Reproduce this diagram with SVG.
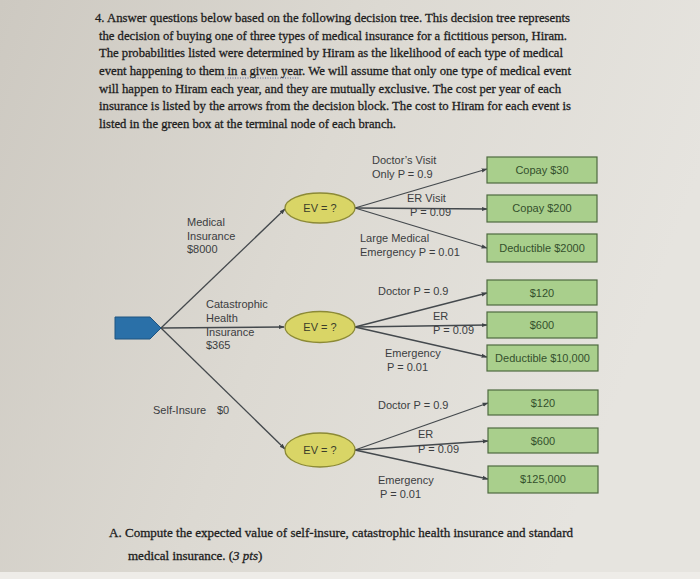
<svg xmlns="http://www.w3.org/2000/svg" width="700" height="579" viewBox="0 0 700 579">
<defs>
<linearGradient id="bg" x1="0" y1="0" x2="1" y2="0.3">
<stop offset="0" stop-color="#cdc9c1"/>
<stop offset="0.5" stop-color="#dcd9d2"/>
<stop offset="1" stop-color="#e6e4df"/>
</linearGradient>
<marker id="arr" viewBox="0 0 10 10" refX="9" refY="5" markerWidth="6" markerHeight="6" orient="auto" markerUnits="userSpaceOnUse">
<path d="M0,1.5 L10,5 L0,8.5 z" fill="#3f4448"/>
</marker>
<style>
.hdr{font-family:"Liberation Serif","Times New Roman",serif;font-size:13.5px;fill:#1c1c1c;stroke:#1c1c1c;stroke-width:0.3px;}
.lbl{font-family:"Liberation Sans",Arial,sans-serif;font-size:11px;fill:#3b3d3f;}
.box{fill:#a9cf8c;stroke:#4f6a40;stroke-width:1.2;}
.btxt{font-family:"Liberation Sans",Arial,sans-serif;font-size:11px;fill:#34502c;text-anchor:middle;}
.ev{fill:#d9d566;stroke:#8c8a36;stroke-width:1.3;}
.evt{font-family:"Liberation Sans",Arial,sans-serif;font-size:11px;fill:#3b3d2a;text-anchor:middle;}
.con{stroke:#44494d;stroke-width:1.3;fill:none;marker-end:url(#arr);}
</style>
</defs>
<rect width="700" height="579" fill="url(#bg)"/>
<rect y="572" width="700" height="7" fill="#eeece8"/>

<g id="header">
<text class="hdr" x="95" y="22" textLength="475" lengthAdjust="spacingAndGlyphs">4. Answer questions below based on the following decision tree.  This decision tree represents</text>
<text class="hdr" x="99" y="39.5" textLength="468" lengthAdjust="spacingAndGlyphs">the decision of buying one of three types of medical insurance for a fictitious person, Hiram.</text>
<text class="hdr" x="99" y="57" textLength="464" lengthAdjust="spacingAndGlyphs">The probabilities listed were determined by Hiram as the likelihood of each type of medical</text>
<text class="hdr" x="99" y="75" textLength="472" lengthAdjust="spacingAndGlyphs">event happening to them in a given year. We will assume that only one type of medical event</text>
<text class="hdr" x="99" y="92.5" textLength="462" lengthAdjust="spacingAndGlyphs">will happen to Hiram each year, and they are mutually exclusive. The cost per year of each</text>
<text class="hdr" x="99" y="110" textLength="472" lengthAdjust="spacingAndGlyphs">insurance is listed by the arrows from the decision block. The cost to Hiram for each event is</text>
<text class="hdr" x="99" y="128" textLength="297" lengthAdjust="spacingAndGlyphs">listed in the green box at the terminal node of each branch.</text>
<line x1="225" y1="78" x2="300" y2="78" stroke="#5a6a9a" stroke-width="1" stroke-dasharray="1,1.5"/>
</g>

<g id="connectors">
<line class="con" x1="161" y1="328" x2="285" y2="209"/>
<line class="con" x1="161" y1="328" x2="284" y2="327"/>
<line class="con" x1="161" y1="328" x2="285" y2="449"/>
<line class="con" x1="355" y1="208" x2="487" y2="169"/>
<line class="con" x1="355" y1="208" x2="487" y2="209"/>
<line class="con" x1="355" y1="208" x2="487" y2="248"/>
<line class="con" x1="355" y1="327" x2="487" y2="293"/>
<line class="con" x1="355" y1="327" x2="487" y2="325"/>
<line class="con" x1="355" y1="327" x2="487" y2="357"/>
<line class="con" x1="355" y1="450" x2="488" y2="403"/>
<line class="con" x1="355" y1="450" x2="488" y2="441"/>
<line class="con" x1="355" y1="450" x2="488" y2="479"/>
</g>

<g id="decision">
<path d="M115,317 L150,317 L161,328 L150,339 L115,339 Z" fill="#2a70a8" stroke="#1f5480" stroke-width="1"/>
</g>

<g id="branch-labels">
<text class="lbl" x="187" y="226">Medical</text>
<text class="lbl" x="187" y="240">Insurance</text>
<text class="lbl" x="187" y="253">$8000</text>
<text class="lbl" x="206" y="308">Catastrophic</text>
<text class="lbl" x="206" y="322">Health</text>
<text class="lbl" x="206" y="336">Insurance</text>
<text class="lbl" x="206" y="349">$365</text>
<text class="lbl" x="153" y="414">Self-Insure</text>
<text class="lbl" x="217" y="414">$0</text>
</g>

<g id="ev1">
<ellipse class="ev" cx="320" cy="208" rx="35" ry="15"/>
<text class="evt" x="320" y="212">EV = ?</text>
</g>
<g id="ev2">
<ellipse class="ev" cx="320" cy="327" rx="35" ry="15.5"/>
<text class="evt" x="320" y="331">EV = ?</text>
</g>
<g id="ev3">
<ellipse class="ev" cx="320" cy="450" rx="35" ry="17"/>
<text class="evt" x="320" y="454">EV = ?</text>
</g>

<g id="event-labels">
<text class="lbl" x="372" y="164">Doctor’s Visit</text>
<text class="lbl" x="372" y="178">Only P = 0.9</text>
<text class="lbl" x="407" y="202">ER Visit</text>
<text class="lbl" x="410" y="216">P = 0.09</text>
<text class="lbl" x="360" y="242">Large Medical</text>
<text class="lbl" x="360" y="256">Emergency P = 0.01</text>
<text class="lbl" x="378" y="295">Doctor P = 0.9</text>
<text class="lbl" x="433" y="320">ER</text>
<text class="lbl" x="433" y="334">P = 0.09</text>
<text class="lbl" x="385" y="357">Emergency</text>
<text class="lbl" x="387" y="371">P = 0.01</text>
<text class="lbl" x="378" y="409">Doctor P = 0.9</text>
<text class="lbl" x="418" y="438">ER</text>
<text class="lbl" x="418" y="453">P = 0.09</text>
<text class="lbl" x="378" y="484">Emergency</text>
<text class="lbl" x="380" y="498">P = 0.01</text>
</g>

<g id="t1"><rect class="box" x="487" y="157" width="110" height="26"/><text class="btxt" x="542" y="174">Copay $30</text></g>
<g id="t2"><rect class="box" x="487" y="195" width="110" height="27"/><text class="btxt" x="542" y="212">Copay $200</text></g>
<g id="t3"><rect class="box" x="487" y="234" width="110" height="28"/><text class="btxt" x="542" y="252">Deductible $2000</text></g>
<g id="t4"><rect class="box" x="487" y="280" width="110" height="25"/><text class="btxt" x="542" y="297">$120</text></g>
<g id="t5"><rect class="box" x="487" y="312" width="110" height="26"/><text class="btxt" x="542" y="329">$600</text></g>
<g id="t6"><rect class="box" x="487" y="345" width="111" height="26"/><text class="btxt" x="542.5" y="362">Deductible $10,000</text></g>
<g id="t7"><rect class="box" x="488" y="390" width="110" height="25"/><text class="btxt" x="543" y="407">$120</text></g>
<g id="t8"><rect class="box" x="488" y="428" width="110" height="25"/><text class="btxt" x="543" y="445">$600</text></g>
<g id="t9"><rect class="box" x="488" y="466" width="110" height="27"/><text class="btxt" x="543" y="483">$125,000</text></g>

<g id="question">
<text class="hdr" x="109" y="537" textLength="464" lengthAdjust="spacingAndGlyphs">A.  Compute the expected value of self-insure, catastrophic health insurance and standard</text>
<text class="hdr" x="128" y="560" style="font-size:13px">medical insurance. (<tspan font-style="italic">3 pts</tspan>)</text>
</g>
</svg>
